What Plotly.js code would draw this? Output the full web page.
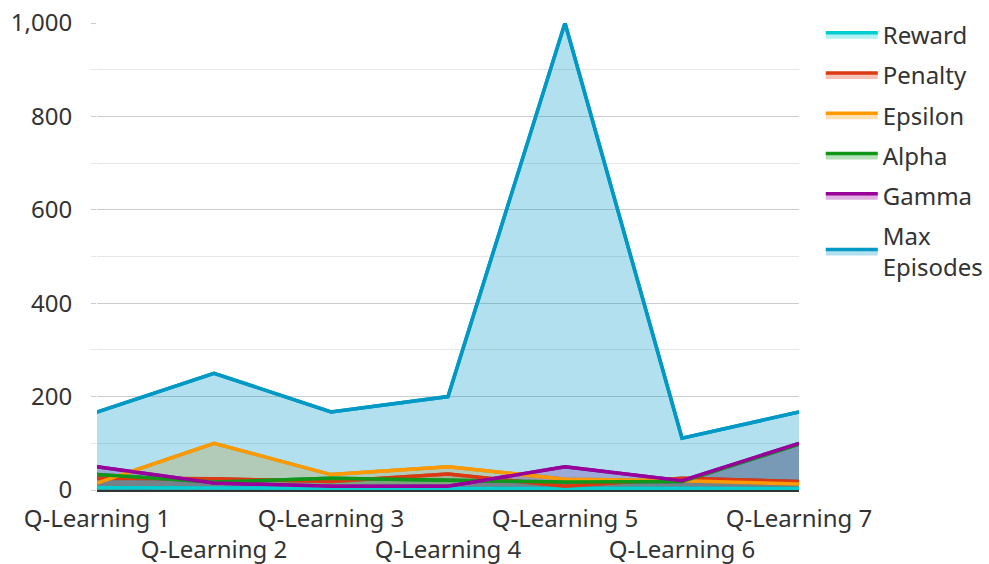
<!DOCTYPE html>
<html><head><meta charset="utf-8">
<script src="https://cdn.plot.ly/plotly-3.0.1.min.js"></script>
<style>body{margin:0;padding:0;background:#fff}#chart{width:989px;height:564px}</style>
</head><body><div id="chart"></div>
<script>
const categories = ["Q-Learning 1","Q-Learning 2","Q-Learning 3","Q-Learning 4","Q-Learning 5","Q-Learning 6","Q-Learning 7"];
const reward      = [5, 4, 3, 3, 3, 4, 3];
const penalty     = [25, 24, 18, 34, 8, 25, 18];
const epsilon     = [15, 100, 33, 50, 23, 20, 13];
const alpha       = [33, 17, 25, 21, 17, 18, 98];
const gamma       = [50, 15, 8, 8, 50, 20, 100];
const maxEpisodes = [167, 250, 167, 200, 1000, 111, 167];

const seriesNames = ["Reward","Penalty","Epsilon","Alpha","Gamma","Max<br>Episodes"];
const seriesData = [reward, penalty, epsilon, alpha, gamma, maxEpisodes];
const colors = ["#00CED1","#DC3912","#FF9900","#109618","#990099","#0099C6"];

function hexA(h,a){const r=parseInt(h.slice(1,3),16),g=parseInt(h.slice(3,5),16),b=parseInt(h.slice(5,7),16);return `rgba(${r},${g},${b},${a})`;}

// fill layer (also carries the legend entries)
const fillTraces = seriesData.map((d,i)=>({
  type:'scatter', mode:'lines', x:categories, y:d, name:seriesNames[i],
  line:{color:colors[i], width:3.5}, fill:'tozeroy', fillcolor:hexA(colors[i],0.3),
  legendgroup:'g'+i
}));
// line layer drawn above all fills
const lineTraces = seriesData.map((d,i)=>({
  type:'scatter', mode:'lines', x:categories, y:d, name:seriesNames[i],
  line:{color:colors[i], width:3.5}, showlegend:false, legendgroup:'g'+i
}));
// helper trace to carry the second row of category labels
const helper = {type:'scatter', mode:'lines', x:categories, y:categories.map(()=>null), xaxis:'x2', showlegend:false, hoverinfo:'skip'};

const oddCats = categories.filter((c,i)=>i%2===0);
const evenCats = categories.filter((c,i)=>i%2===1);
const font = {family:'"Noto Sans", sans-serif', size:24, color:'#333'};

const layout = {
  width:989, height:564,
  margin:{l:97, r:190, t:23, b:74, autoexpand:false},
  paper_bgcolor:'#fff', plot_bgcolor:'#fff',
  font: font,
  showlegend:true,
  legend:{x:1.031, y:1.022, xanchor:'left', yanchor:'top', font:font, tracegroupgap:6, traceorder:'grouped', itemwidth:52},
  xaxis:{type:'category', categoryorder:'array', categoryarray:categories, range:[0,6],
    tickvals:oddCats, ticktext:oddCats, showgrid:false, zeroline:false,
    showline:true, linecolor:'#333', linewidth:2, ticks:'', tickfont:font, ticklabelstandoff:6},
  xaxis2:{type:'category', categoryorder:'array', categoryarray:categories, range:[0,6],
    overlaying:'x', side:'bottom', anchor:'y', tickvals:evenCats, ticktext:evenCats,
    showgrid:false, zeroline:false, showline:false, ticks:'', tickfont:font, ticklabelstandoff:43},
  yaxis:{range:[0,1000], dtick:200, tickformat:',', showgrid:true, gridcolor:'#cccccc', gridwidth:1,
    zeroline:false, showline:false, ticks:'outside', ticklen:5, tickcolor:'#cccccc', tickfont:font,
    ticklabelstandoff:14,
    minor:{dtick:100, showgrid:true, gridcolor:'#e6e6e6', ticks:'outside', ticklen:5, tickcolor:'#e6e6e6'}},
  hovermode:false
};
Plotly.newPlot('chart', fillTraces.concat(lineTraces, [helper]), layout, {displayModeBar:false, staticPlot:true});
</script></body></html>
